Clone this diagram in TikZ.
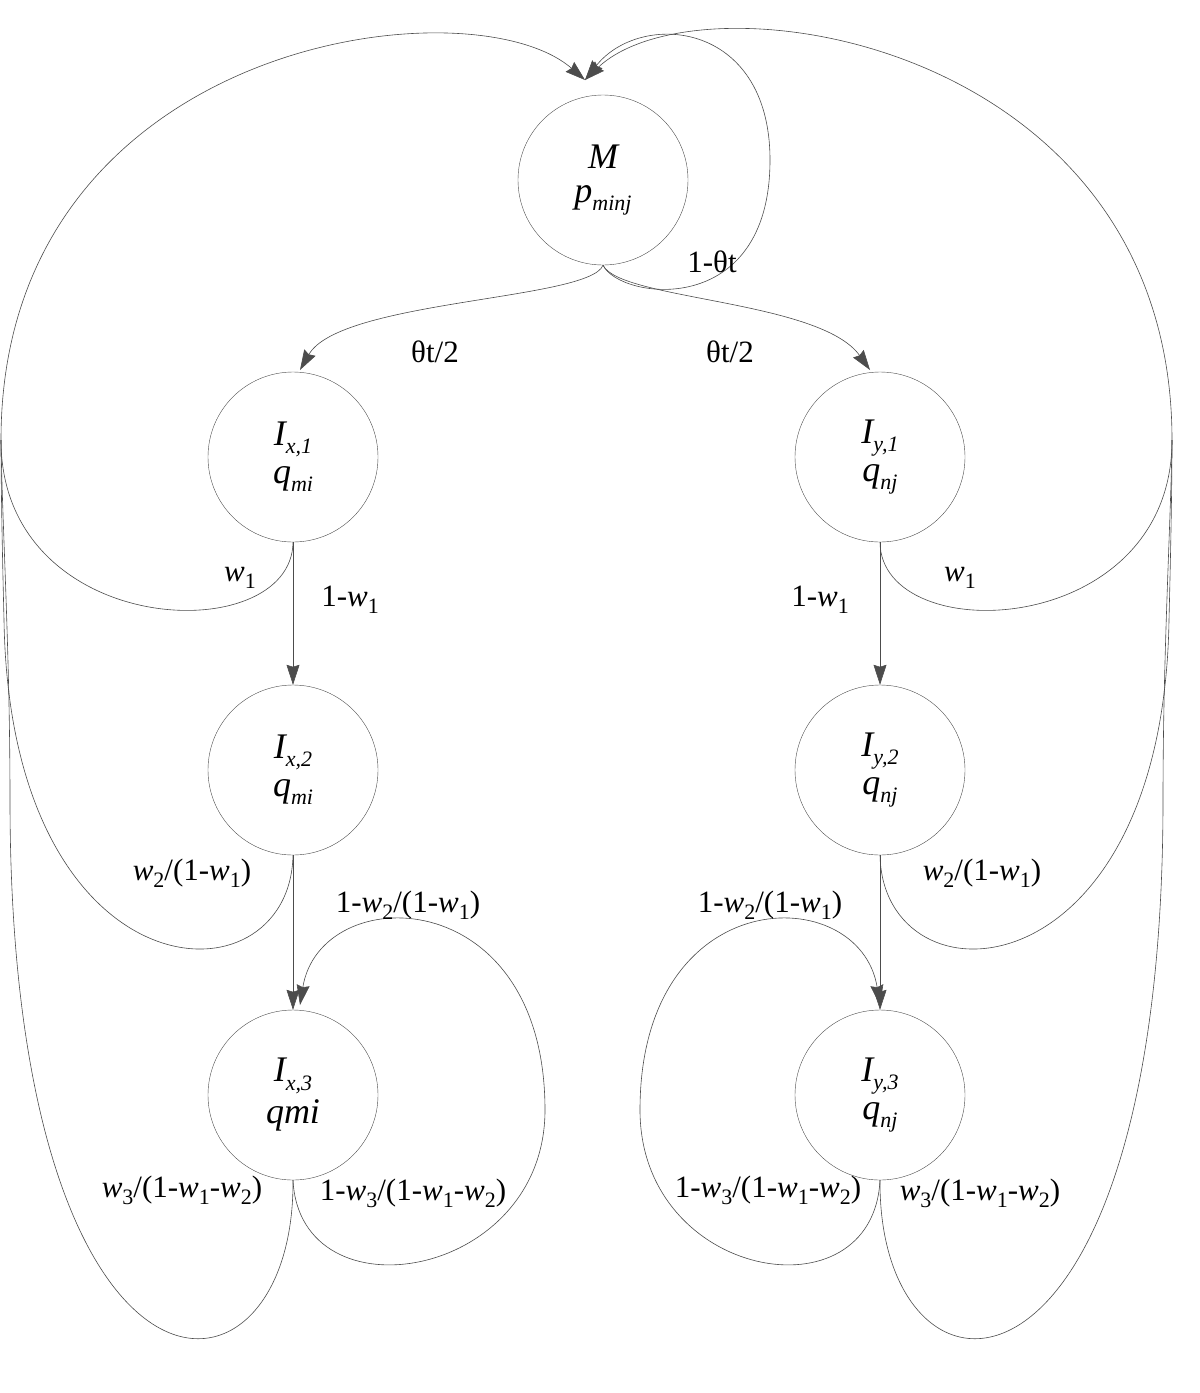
\documentclass[tikz,border=0pt]{standalone}
\usepackage{fontspec}
\setmainfont{Liberation Serif}
\usetikzlibrary{arrows.meta}
\newcommand{\sbs}[1]{\raisebox{-0.5ex}{\fontsize{22}{22}\selectfont\itshape #1}}
\newcommand{\dg}[1]{\raisebox{-0.5ex}{\fontsize{22}{22}\selectfont #1}}
\newcommand{\w}[1]{\textit{w}\dg{#1}}
\begin{document}
\begin{tikzpicture}[x=1pt,y=-1pt,
  st/.style={circle,draw=black!70,minimum size=170pt,inner sep=0pt,align=center,font=\fontsize{36}{40}\selectfont},
  ln/.style={draw=black!70,line width=0.6pt},
  ar/.style={ln,-{Stealth[length=20pt,width=13pt,inset=2pt]}},
  lb/.style={font=\fontsize{31}{34}\selectfont,inner sep=0pt}]
\useasboundingbox (0,0) rectangle (1200,1393);
\node[st] (M) at (603,180) {\itshape M\\[-6pt]\itshape p\sbs{minj}};
\node[st] (X1) at (293,457) {\itshape I\sbs{x,1}\\[-2pt]\itshape q\sbs{mi}};
\node[st] (Y1) at (880,457) {\itshape I\sbs{y,1}\\[-2pt]\itshape q\sbs{nj}};
\node[st] (X2) at (293,770) {\itshape I\sbs{x,2}\\[-2pt]\itshape q\sbs{mi}};
\node[st] (Y2) at (880,770) {\itshape I\sbs{y,2}\\[-2pt]\itshape q\sbs{nj}};
\node[st] (X3) at (293,1095) {\itshape I\sbs{x,3}\\[2pt]\itshape qmi};
\node[st] (Y3) at (880,1095) {\itshape I\sbs{y,3}\\[-2pt]\itshape q\sbs{nj}};
\coordinate (mt) at (585,80);
\coordinate (x3t) at (300,1005);
\coordinate (y3t) at (880,1005);
\coordinate (jl) at (1,440);
\coordinate (jr) at (1172,440);
% from M
\draw[ar] (M.south) .. controls (590,300) and (340,300) .. (300,370);
\draw[ar] (M.south) .. controls (620,300) and (820,300) .. (870,370);
\draw[ar] (M.south) .. controls (620,300) and (770,320) .. (770,160) .. controls (770,20) and (640,10) .. (mt);
% vertical
\draw[ar] (X1.south) -- (X2.north);
\draw[ar] (Y1.south) -- (Y2.north);
\draw[ar] (X2.south) -- (X3.north);
\draw[ar] (Y2.south) -- (Y3.north);
% left trunk and loops
\draw[ar] (jl) .. controls (1,40) and (470,-20) .. (mt);
\draw[ln] (X1.south) .. controls (292,650) and (1,640) .. (jl);
\draw[ln] (X2.south) .. controls (290,1010) and (10,1000) .. (4,620) .. controls (2,540) and (1,480) .. (jl);
\draw[ln] (X3.south) .. controls (295,1430) and (10,1440) .. (10,800) .. controls (10,650) and (2,520) .. (jl);
\draw[ar] (X3.south) .. controls (300,1320) and (545,1280) .. (545,1110) .. controls (545,880) and (320,880) .. (x3t);
% right trunk and loops
\draw[ar] (jr) .. controls (1172,40) and (700,-30) .. (mt);
\draw[ln] (Y1.south) .. controls (881,650) and (1172,640) .. (jr);
\draw[ln] (Y2.south) .. controls (883,1010) and (1163,1000) .. (1169,620) .. controls (1171,540) and (1172,480) .. (jr);
\draw[ln] (Y3.south) .. controls (878,1430) and (1163,1440) .. (1163,800) .. controls (1163,650) and (1171,520) .. (jr);
\draw[ar] (Y3.south) .. controls (873,1320) and (640,1280) .. (640,1110) .. controls (640,880) and (860,880) .. (y3t);
% labels
\node[lb] at (712,262) {1-θt};
\node[lb] at (435,352) {θt/2};
\node[lb] at (730,352) {θt/2};
\node[lb] at (240,578) {\w{1}};
\node[lb] at (350,600) {1-\w{1}};
\node[lb] at (820,600) {1-\w{1}};
\node[lb] at (960,578) {\w{1}};
\node[lb] at (192,873) {\w{2}/(1-\w{1})};
\node[lb] at (408,905) {1-\w{2}/(1-\w{1})};
\node[lb] at (770,905) {1-\w{2}/(1-\w{1})};
\node[lb] at (982,873) {\w{2}/(1-\w{1})};
\node[lb] at (182,1190) {\w{3}/(1-\w{1}-\w{2})};
\node[lb] at (413,1193) {1-\w{3}/(1-\w{1}-\w{2})};
\node[lb] at (768,1190) {1-\w{3}/(1-\w{1}-\w{2})};
\node[lb] at (980,1193) {\w{3}/(1-\w{1}-\w{2})};
\end{tikzpicture}
\end{document}
